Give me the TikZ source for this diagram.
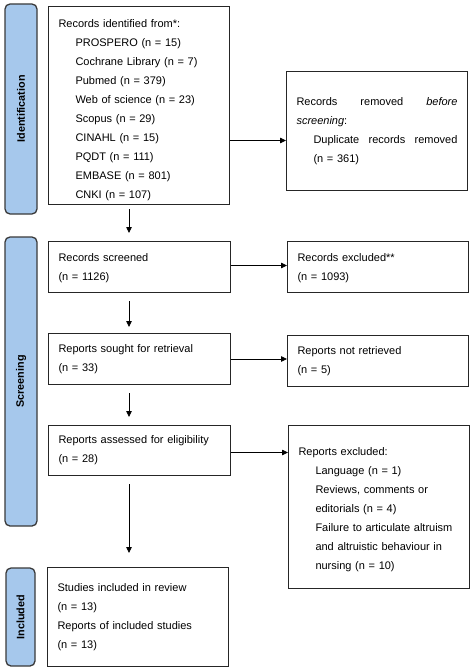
\documentclass[tikz,border=0pt]{standalone}
\usepackage{fontspec}
\setmainfont{Liberation Sans}
\usetikzlibrary{arrows.meta}
\definecolor{sideblue}{HTML}{A6C8EC}
\definecolor{sideline}{HTML}{3A3A3A}
\begin{document}
\begin{tikzpicture}[x=1pt,y=-1pt,
  side/.style={draw=sideline, fill=sideblue, rounded corners=5pt, line width=1.3pt,
    rotate=90, font=\fontsize{10.8}{13}\selectfont\bfseries, inner sep=0pt},
  box/.style={draw=black!85, line width=1pt, anchor=north west, align=left,
    inner xsep=10pt, inner ysep=0pt, font=\fontsize{11}{19}\selectfont},
  arr/.style={-{Triangle[length=6pt,width=5.5pt]}, line width=0.8pt}]
\useasboundingbox (0,0) rectangle (474,671);
\fill[white] (0,0) rectangle (474,671);
% side labels
\node[side, minimum width=210pt, minimum height=32pt] (sid) at (21,109) {Identification};
\node[side, minimum width=289pt, minimum height=32pt] (sscr) at (21,381.5) {Screening};
\node[side, minimum width=98pt, minimum height=29pt] (sinc) at (20.5,617) {Included};
% boxes
\node[box, text width=161pt, minimum height=198pt] (ident) at (48,6) {\rule{0pt}{18pt}Records identified from*:\\
\hspace*{17pt}PROSPERO (n = 15)\\
\hspace*{17pt}Cochrane Library (n = 7)\\
\hspace*{17pt}Pubmed (n = 379)\\
\hspace*{17pt}Web of science (n = 23)\\
\hspace*{17pt}Scopus (n = 29)\\
\hspace*{17pt}CINAHL (n = 15)\\
\hspace*{17pt}PQDT (n = 111)\\
\hspace*{17pt}EMBASE (n = 801)\\
\hspace*{17pt}CNKI (n = 107)};
\node[box, text width=161pt, minimum height=119pt] (removed) at (286,71) {Records\hfill removed\hfill \textit{before}\\
\textit{screening}:\\
\hspace*{17pt}Duplicate\hfill records\hfill removed\\
\hspace*{17pt}(n = 361)};
\node[box, text width=162pt, minimum height=51pt] (screened) at (48,241) {\rule{0pt}{10pt}Records screened\\(n = 1126)};
\node[box, text width=161pt, minimum height=51pt] (excluded) at (287,241) {\rule{0pt}{10pt}Records excluded**\\(n = 1093)};
\node[box, text width=162pt, minimum height=51pt] (sought) at (48,333) {Reports sought for retrieval\\(n = 33)};
\node[box, text width=161pt, minimum height=51pt] (notret) at (287,335) {Reports not retrieved\\(n = 5)};
\node[box, text width=162pt, minimum height=50pt] (assessed) at (48,425) {Reports assessed for eligibility\\(n = 28)};
\node[box, text width=161pt, minimum height=163pt] (repexcl) at (288,425) {\rule{0pt}{14pt}Reports excluded:\\
\hspace*{17pt}Language (n = 1)\\
\hspace*{17pt}Reviews, comments or\\
\hspace*{17pt}editorials (n = 4)\\
\hspace*{17pt}Failure to articulate altruism\\
\hspace*{17pt}and altruistic behaviour in\\
\hspace*{17pt}nursing (n = 10)};
\node[box, text width=161pt, minimum height=99pt] (included) at (47,567) {Studies included in review\\
(n = 13)\\
Reports of included studies\\
(n = 13)};
% connectors
\coordinate (vx) at (129,0);
\coordinate (a1) at ([yshift=-35pt]ident.east);
\draw[arr] (a1) -- (a1 -| removed.west);
\draw[arr] ([yshift=1.5pt]screened.east) -- ([yshift=1.5pt]screened.east -| excluded.west);
\draw[arr] (sought.east) -- (sought.east -| notret.west);
\draw[arr] ([yshift=-2pt]assessed.east) -- ([yshift=-2pt]assessed.east -| repexcl.west);
\draw[arr, shorten <=4pt, shorten >=8pt] (ident.south -| vx) -- (screened.north -| vx);
\draw[arr, shorten <=8pt, shorten >=6pt] (screened.south -| vx) -- (sought.north -| vx);
\draw[arr, shorten <=8pt, shorten >=8pt] (sought.south -| vx) -- (assessed.north -| vx);
\draw[arr, shorten <=8pt, shorten >=14pt] (assessed.south -| vx) -- (included.north -| vx);
\end{tikzpicture}
\end{document}
